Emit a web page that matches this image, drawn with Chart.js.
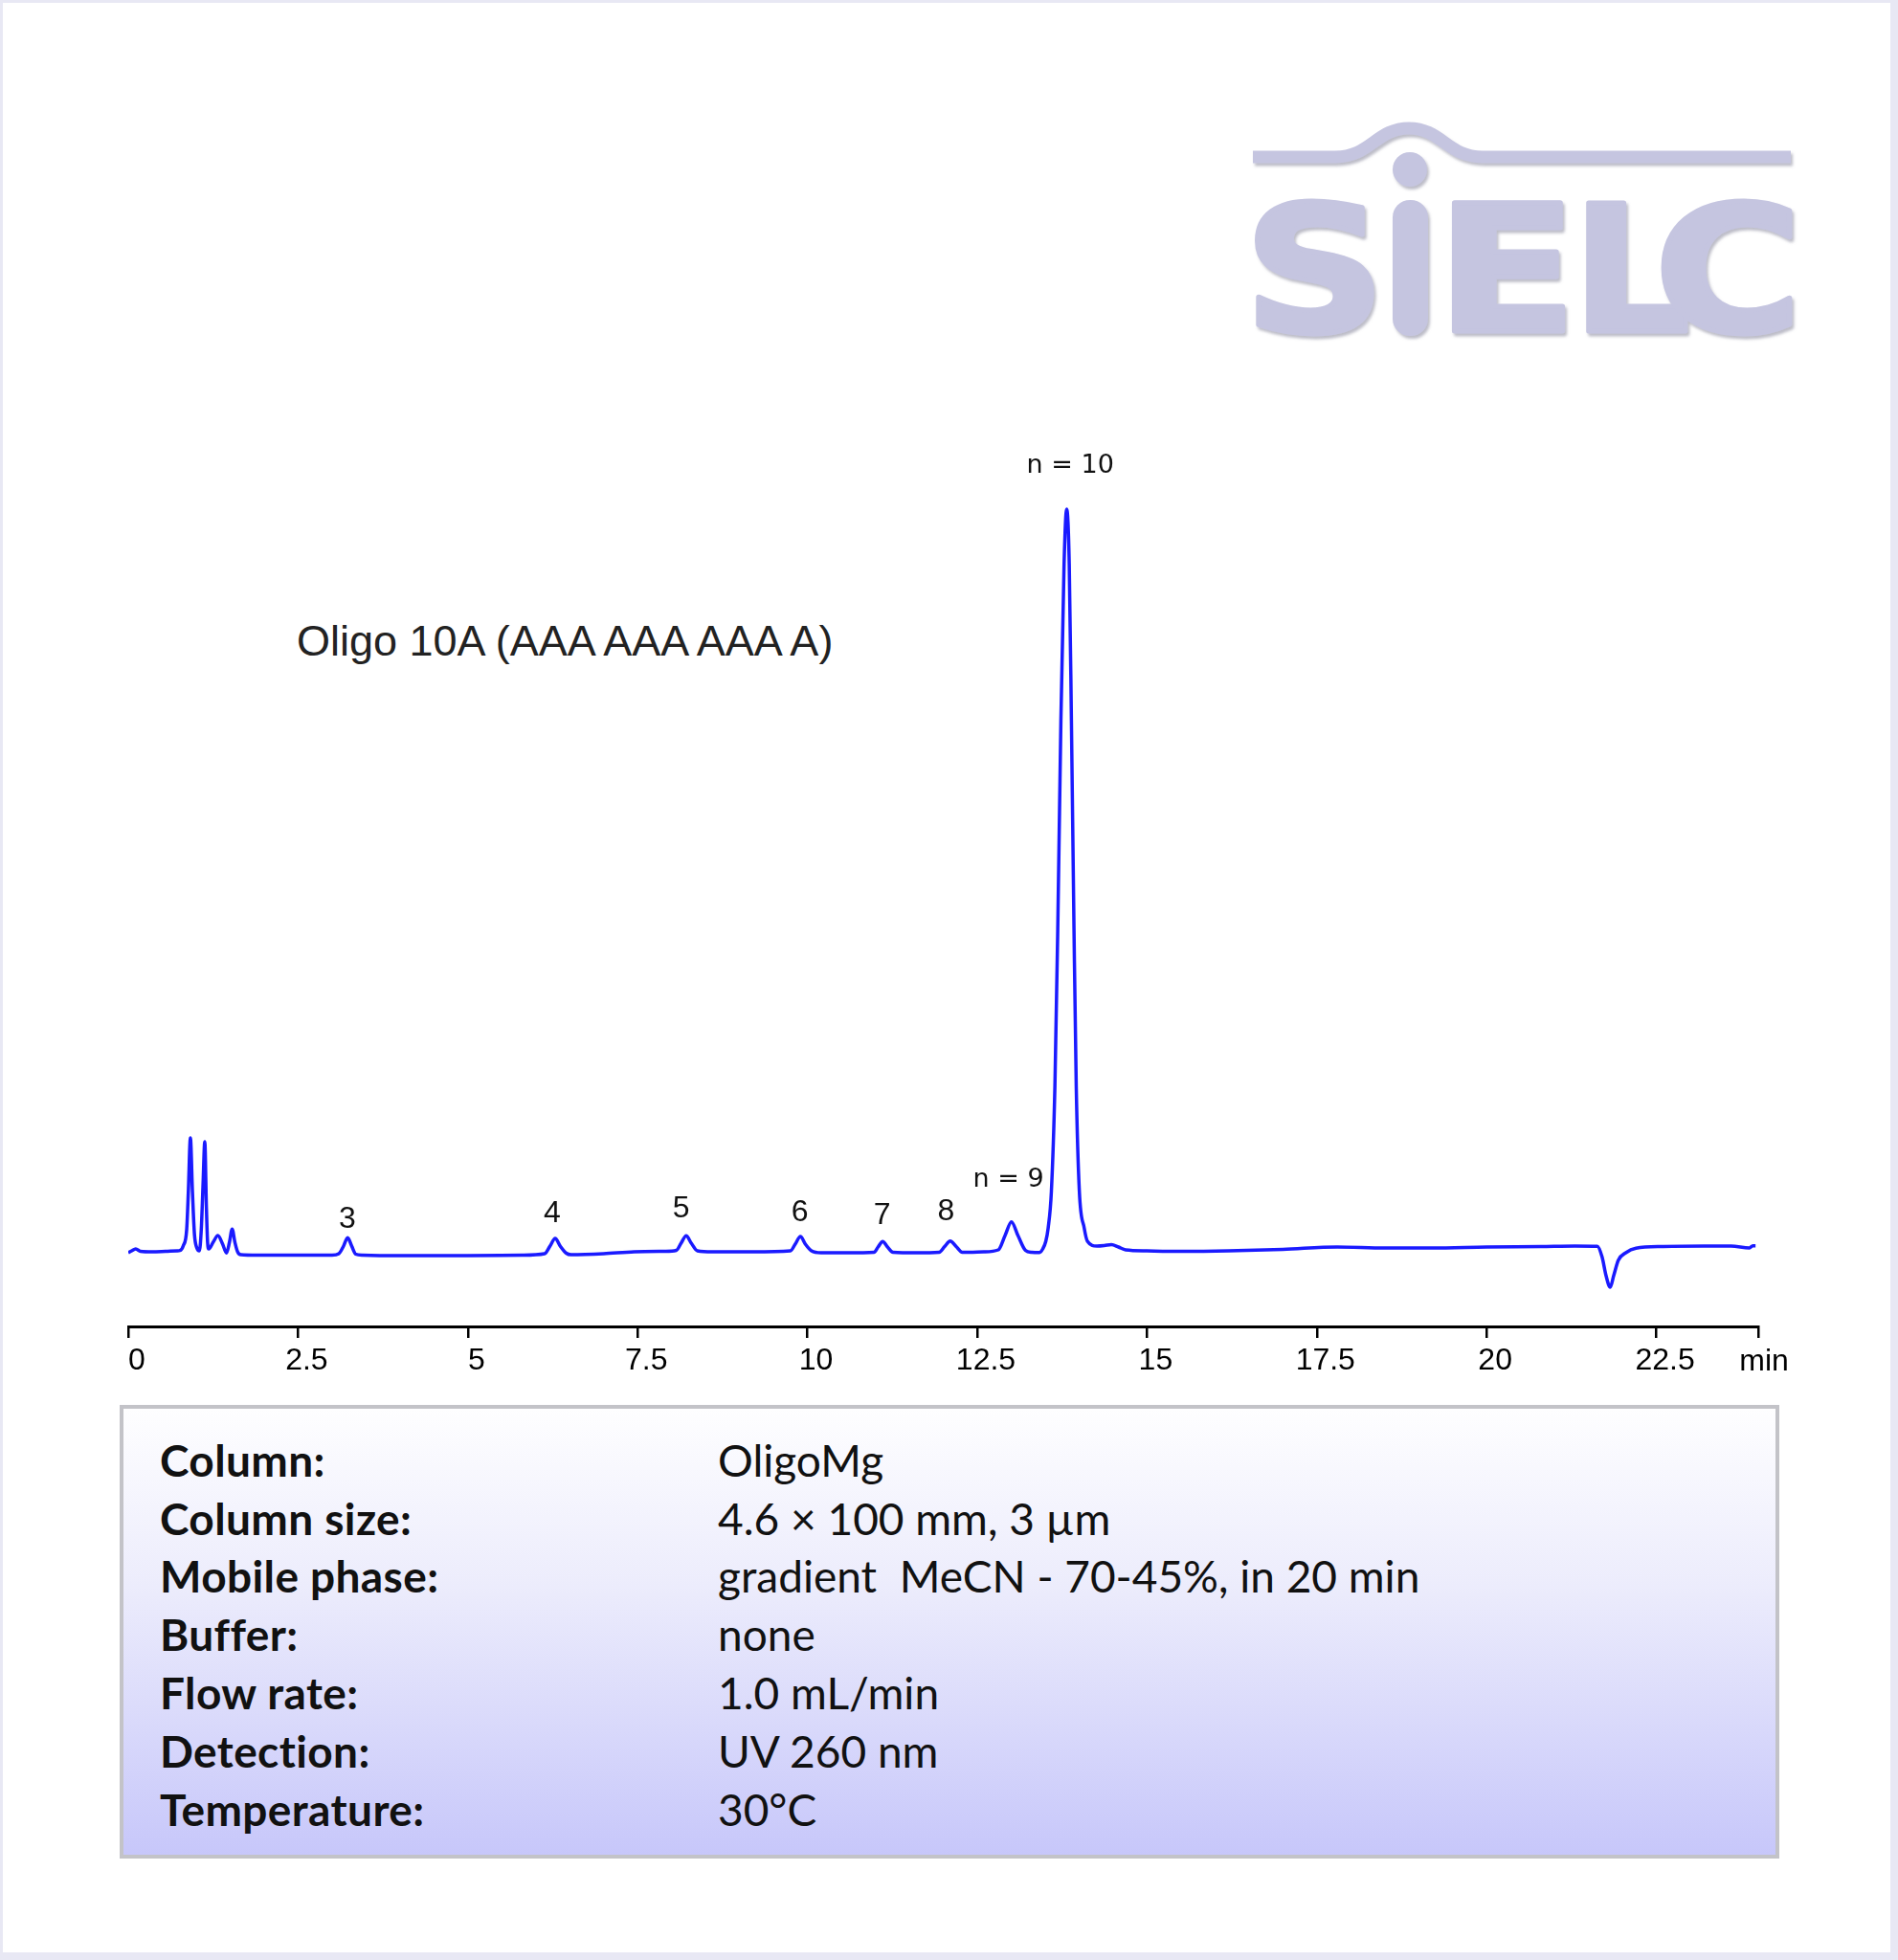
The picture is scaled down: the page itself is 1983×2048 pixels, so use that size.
<!DOCTYPE html>
<html>
<head>
<meta charset="utf-8">
<script src="https://cdn.jsdelivr.net/npm/chart.js@4.4.1/dist/chart.umd.min.js"></script>
<style>
  html, body { margin: 0; padding: 0; }
  body { width: 1983px; height: 2048px; background: #e8e8f4; position: relative; overflow: hidden; }
  #page { position: absolute; left: 3px; top: 3px; width: 1972px; height: 2037px; background: #fff; }
  #logo { position: absolute; left: 0; top: 0; }
  #title { position: absolute; left: 310px; top: 670px; transform: translateY(-50%);
           font: 45px "Liberation Sans", Arial, sans-serif; color: #222; white-space: nowrap; }
  #chartBox { position: absolute; left: 0; top: 440px; width: 1983px; height: 1020px; }
  #conditions { position: absolute; left: 125px; top: 1468px; width: 1734px; height: 474px;
                box-sizing: border-box; border: 4px solid #c3c3c8;
                background: linear-gradient(#fefeff 0%, #ececfc 40%, #c7c7fa 100%);
                padding: 23px 0 0 38px;
                display: grid; grid-template-columns: 583px auto; grid-auto-rows: 60.8px; align-items: center;
                font-family: Lato, "Open Sans", sans-serif; font-size: 46px; color: #111; }
  #conditions .k { font-weight: 700; letter-spacing: 0.4px; }
  #conditions .v { white-space: pre; }
</style>
</head>
<body>
<div id="page"></div>

<svg id="logo" width="1983" height="400" viewBox="0 0 1983 400">
  <defs>
    <filter id="sh" x="-5%" y="-10%" width="110%" height="130%">
      <feDropShadow dx="2" dy="3" stdDeviation="1.5" flood-color="#85859a" flood-opacity="0.55"/>
    </filter>
  </defs>
  <g filter="url(#sh)" fill="#c5c5e0" stroke="#c5c5e0">
    <path d="M1309,164 L1395,164 C1432,164 1438,134 1472,134 C1506,134 1512,164 1549,164 L1871,164" fill="none" stroke-width="13"/>
    <circle cx="1473" cy="177" r="18" stroke="none"/>
    <rect x="1455" y="209" width="37" height="142" rx="18" stroke="none"/>
    <g font-family="DejaVu Sans" font-weight="bold" font-size="184" stroke-width="5" stroke-linejoin="round">
      <text x="1299" y="346" textLength="149" lengthAdjust="spacingAndGlyphs">S</text>
      <text x="1500" y="346" textLength="148" lengthAdjust="spacingAndGlyphs">E</text>
      <text x="1642" y="346" textLength="124" lengthAdjust="spacingAndGlyphs">L</text>
      <text x="1728" y="346" textLength="155" lengthAdjust="spacingAndGlyphs">C</text>
    </g>
  </g>
</svg>

<div id="title">Oligo 10A (AAA AAA AAA A)</div>

<div id="chartBox"><canvas id="chrom"></canvas></div>

<div id="conditions">
  <span class="k">Column:</span><span class="v">OligoMg</span>
  <span class="k">Column size:</span><span class="v">4.6 × 100 mm, 3 µm</span>
  <span class="k">Mobile phase:</span><span class="v">gradient  MeCN - 70-45%, in 20 min</span>
  <span class="k">Buffer:</span><span class="v">none</span>
  <span class="k">Flow rate:</span><span class="v">1.0 mL/min</span>
  <span class="k">Detection:</span><span class="v">UV 260 nm</span>
  <span class="k">Temperature:</span><span class="v">30°C</span>
</div>

<script>
// retention time (min) and detector signal
const retentionTime = [
  0.00, 0.05, 0.11, 0.18, 0.35, 0.55, 0.72, 0.76, 0.81, 0.86, 0.885, 0.915, 0.945, 0.975, 1.01, 1.047,
  1.075, 1.10, 1.127, 1.15, 1.168, 1.185, 1.25, 1.32, 1.39, 1.446, 1.49, 1.53, 1.57, 1.61, 1.658,
  1.9, 2.5, 3.0, 3.10, 3.17, 3.23, 3.29, 3.35, 3.45, 4.0, 5.0, 5.8,
  6.13, 6.21, 6.286, 6.36, 6.45, 6.52, 7.0, 7.45, 7.9,
  8.07, 8.14, 8.215, 8.29, 8.38, 8.6, 9.2,
  9.75, 9.82, 9.897, 9.97, 10.06, 10.2, 10.6,
  10.98, 11.04, 11.108, 11.18, 11.26, 11.6,
  11.94, 12.02, 12.103, 12.19, 12.28, 12.6,
  12.81, 12.91, 13.004, 13.10, 13.21, 13.30, 13.418,
  13.465, 13.51, 13.545, 13.592, 13.644, 13.686, 13.732, 13.779, 13.817, 13.855, 13.887, 13.925, 13.958,
  14.004, 14.075, 14.123, 14.263, 14.37, 14.475, 14.58, 14.686,
  15.0, 15.5, 16.2, 17.0, 17.8, 18.5, 19.2, 20.0, 20.8, 21.3, 21.63,
  21.70, 21.76, 21.82, 21.87, 21.94, 22.05, 22.2, 22.6, 23.2, 23.6, 23.87, 23.92, 23.96
];
const absorbance = [
  1.1, 1.3, 1.5, 1.25, 1.2, 1.25, 1.3, 1.33, 1.83, 3.5, 7.5, 13.1, 7.5, 3.0, 1.6, 1.3,
  3.5, 8.0, 12.7, 6.0, 2.2, 1.5, 2.2, 2.9, 2.0, 1.07, 2.2, 3.57, 2.2, 1.2, 0.9,
  0.85, 0.85, 0.85, 1.0, 1.8, 2.67, 1.8, 0.95, 0.85, 0.8, 0.8, 0.85,
  1.0, 1.8, 2.6, 1.8, 1.05, 0.9, 1.0, 1.2, 1.25,
  1.35, 2.1, 2.87, 2.1, 1.3, 1.2, 1.2,
  1.3, 2.0, 2.8, 2.0, 1.3, 1.1, 1.1,
  1.15, 1.7, 2.27, 1.7, 1.15, 1.1,
  1.15, 1.75, 2.33, 1.75, 1.15, 1.2,
  1.4, 2.9, 4.33, 2.9, 1.35, 1.15, 1.13,
  1.5, 2.3, 3.7, 7.5, 18.5, 34.9, 56.7, 73.1, 78.8, 73.1, 56.7, 34.9, 18.5,
  7.5, 3.7, 2.3, 1.8, 1.85, 1.95, 1.7, 1.4,
  1.3, 1.25, 1.3, 1.45, 1.7, 1.6, 1.6, 1.7, 1.75, 1.8, 1.77,
  0.67, -1.33, -2.5, -1.33, 0.33, 1.1, 1.57, 1.75, 1.8, 1.8, 1.6, 1.83, 1.83
];

const xTickValues = [0, 2.5, 5, 7.5, 10, 12.5, 15, 17.5, 20, 22.5, 24];
const xTickLabels = ['0', '2.5', '5', '7.5', '10', '12.5', '15', '17.5', '20', '22.5', ''];

// peak annotations: text, time and signal level of the label centre
const peakNames = ['3', '4', '5', '6', '7', '8', 'n = 9', 'n = 10'];
const peakLabelTime = [3.225, 6.24, 8.14, 9.887, 11.10, 12.04, 12.96, 13.87];
const peakLabelHeight = [4.6, 5.2, 5.7, 5.3, 5.0, 5.4, 8.7, 83.3];

const peakLabelPlugin = {
  id: 'peakLabels',
  afterDraw(chart) {
    const { ctx, scales: { x, y } } = chart;
    ctx.save();
    ctx.fillStyle = '#111';
    ctx.textAlign = 'center';
    ctx.textBaseline = 'middle';
    peakNames.forEach((name, i) => {
      ctx.font = name.startsWith('n') ? '27px "DejaVu Sans"' : '32px "Liberation Sans"';
      ctx.fillText(name, x.getPixelForValue(peakLabelTime[i]), y.getPixelForValue(peakLabelHeight[i]));
    });
    ctx.font = '32px "Liberation Sans"';
    ctx.fillStyle = '#000';
    ctx.fillText('min', x.right + 6, x.top + 37);
    ctx.restore();
  }
};

new Chart(document.getElementById('chrom'), {
  type: 'line',
  data: {
    datasets: [{
      data: retentionTime.map((t, i) => ({ x: t, y: absorbance[i] })),
      borderColor: '#1a1aff',
      borderWidth: 3.5,
      pointRadius: 0,
      cubicInterpolationMode: 'monotone',
      fill: false
    }]
  },
  options: {
    responsive: true,
    maintainAspectRatio: false,
    animation: false,
    layout: { padding: { left: 134, right: 146, top: 80, bottom: 0 } },
    plugins: {
      legend: { display: false },
      tooltip: { enabled: false }
    },
    scales: {
      x: {
        type: 'linear',
        min: 0,
        max: 24,
        afterBuildTicks: scale => { scale.ticks = xTickValues.map(v => ({ value: v })); },
        afterFit: scale => { scale.height = 74; },
        grid: { display: true, drawOnChartArea: false, drawTicks: true, tickLength: 12, color: '#000', lineWidth: 2.5 },
        border: { display: true, color: '#000', width: 3 },
        ticks: {
          autoSkip: false,
          maxRotation: 0,
          color: '#000',
          padding: 5,
          labelOffset: 9,
          font: { family: 'Liberation Sans', size: 32 },
          callback: (value, index) => xTickLabels[index]
        }
      },
      y: {
        display: false,
        min: -6.6,
        max: 80
      }
    }
  },
  plugins: [peakLabelPlugin]
});
</script>
</body>
</html>
